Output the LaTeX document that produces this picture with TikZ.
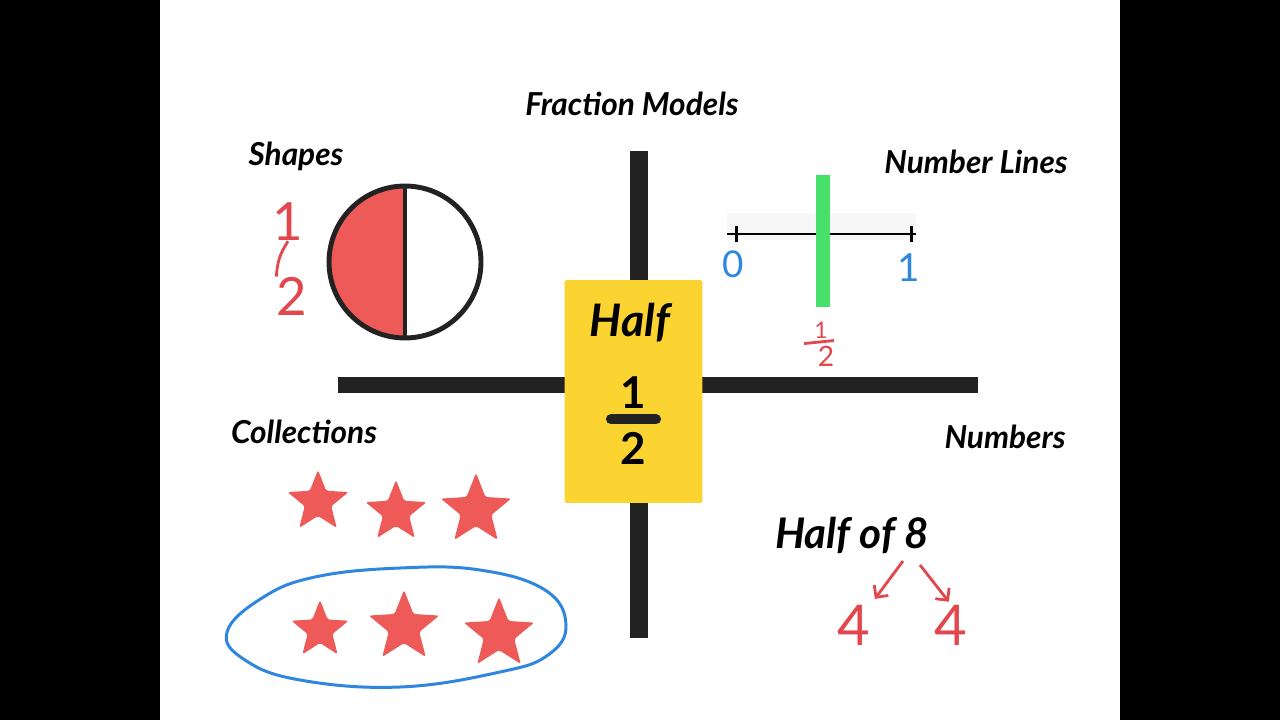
\documentclass[tikz,border=0pt]{standalone}
\usepackage{fontspec}
\setmainfont{Lato}
\usetikzlibrary{positioning,shapes.geometric,arrows.meta}
\definecolor{barblack}{HTML}{222222}
\definecolor{halfyellow}{HTML}{FBD431}
\definecolor{starred}{HTML}{EE5A57}
\definecolor{handred}{HTML}{E2474D}
\definecolor{handblue}{HTML}{2E86DE}
\definecolor{markgreen}{HTML}{46E06B}
\tikzset{%
  every title/.style={
    font=\bfseries\itshape\fontsize{18}{21}\selectfont,
    inner sep=0pt
  },
  every star/.style={
    star,
    star points=5,
    star point ratio=2.3,
    fill=starred,
    inner sep=0pt,
    rounded corners=1pt
  },
  hand digit/.style={
    text=handred,
    inner sep=0pt
  },
  axis bar/.style={
    draw=barblack,
    line width=10pt
  },
}

\begin{document}
\begin{tikzpicture}[x=0.02cm, y=-0.02cm, >={Straight Barb[length=5pt,width=10pt]}]
        \useasboundingbox (0,0) rectangle (1280,720);
        \fill[black] (0,0) rectangle (1280,720);
        \fill[white] (160,0) rectangle (1120,720);

        %%%%%%%%%%%%%%%%%%%%%%%%%%%%%%%%%%%%%%%%%%%%
        % Axes and centre box
        %%%%%%%%%%%%%%%%%%%%%%%%%%%%%%%%%%%%%%%%%%%%
        \coordinate (axis-top) at (639,151);
        \coordinate (axis-bottom) at (639,638);
        \coordinate (axis-left) at (338,385);
        \coordinate (axis-right) at (978,385);
        \draw[axis bar] (axis-top) -- (axis-bottom);
        \draw[axis bar, line width=9pt] (axis-left) -- (axis-right);

        \node[fill=halfyellow, rounded corners=1pt, minimum width=2.76cm,
              minimum height=4.46cm] (half-box) at (633.5,391.5) {};
        \node[font=\bfseries\itshape\fontsize{25.5}{30}\selectfont] (half-word) at (630,323) {Half};
        \node[font=\bfseries\fontsize{25}{30}\selectfont, inner sep=0pt] (half-num) at (633,393) {1};
        \node[font=\bfseries\fontsize{25}{30}\selectfont, inner sep=0pt] (half-den) at (633,448) {2};
        \draw[barblack, line width=5.8pt, line cap=round] (half-num.south) ++(-22,10) coordinate (bar-l) -- ++(45,0) coordinate (bar-r);

        %%%%%%%%%%%%%%%%%%%%%%%%%%%%%%%%%%%%%%%%%%%%
        % Titles
        %%%%%%%%%%%%%%%%%%%%%%%%%%%%%%%%%%%%%%%%%%%%
        \foreach \t/\x/\y [count=\i] in {Fraction Models/632/104, Shapes/296/156,
            Number Lines/976/162, Collections/304/432, Numbers/1005/437}
            \node[every title/.try] (title-\i) at (\x,\y) {\t};

        %%%%%%%%%%%%%%%%%%%%%%%%%%%%%%%%%%%%%%%%%%%%
        % Shapes
        %%%%%%%%%%%%%%%%%%%%%%%%%%%%%%%%%%%%%%%%%%%%
        \begin{scope}
            \clip (320,170) rectangle (404,350);
            \fill[starred] (405,262) circle (76);
        \end{scope}
        \node[circle, draw=barblack, line width=2.8pt, minimum size=3.04cm, inner sep=0pt] (pie) at (405,262) {};
        \draw[barblack, line width=2.6pt] (pie.north) -- (pie.south);

        \node[hand digit, font=\fontsize{30}{34}\selectfont] (pie-num) at (288,222) {1};
        \node[hand digit, font=\fontsize{30}{34}\selectfont] (pie-den) at (292,296) {2};
        \draw[handred, line width=1.6pt] (pie-num.south) to[bend right=15] (pie-den.north west);

        %%%%%%%%%%%%%%%%%%%%%%%%%%%%%%%%%%%%%%%%%%%%
        % Number line
        %%%%%%%%%%%%%%%%%%%%%%%%%%%%%%%%%%%%%%%%%%%%
        \fill[black!3] (727,213) rectangle (916,240);
        \coordinate (line-start) at (727,234);
        \coordinate (line-end) at (916,234);
        \draw[black, line width=1.7pt] (line-start) -- (line-end);
        \foreach \x in {736,911}
            \draw[black, line width=1.7pt] (\x,226) -- (\x,242);

        \node[fill=markgreen, minimum width=0.28cm, minimum height=2.64cm, inner sep=0pt] (half-mark) at (823,241) {};

        \node[text=handblue, inner sep=0pt, font=\fontsize{21}{24}\selectfont] (zero) at (733,264) {0};
        \node[text=handblue, inner sep=0pt, font=\fontsize{22}{24}\selectfont] (one) at (909,268) {1};

        \node[hand digit, font=\fontsize{13}{14}\selectfont] (mark-num) at (821,330) {1};
        \node[hand digit, font=\fontsize{16}{17}\selectfont] (mark-den) at (826,356) {2};
        \draw[handred, line width=1.6pt] (mark-num.south west) ++(-10,5) coordinate (mb-l) -- ++(30,-3) coordinate (mb-r);

        %%%%%%%%%%%%%%%%%%%%%%%%%%%%%%%%%%%%%%%%%%%%
        % Collections
        %%%%%%%%%%%%%%%%%%%%%%%%%%%%%%%%%%%%%%%%%%%%
        \foreach \x/\y/\s [count=\i] in {318/502/64, 396/512/64, 476/510/74,
            320/630/60, 404/627/74, 499/634/74}
            \node[every star/.try, minimum size=\s*0.02cm] (star-\i) at (\x,\y) {};

        \draw[handblue, line width=1.7pt] plot[smooth cycle, tension=0.7] coordinates {
            (227,632) (262,598) (315,577) (400,568) (480,570) (545,590)
            (566,625) (548,655) (500,672) (400,687) (300,680) (245,660)};

        %%%%%%%%%%%%%%%%%%%%%%%%%%%%%%%%%%%%%%%%%%%%
        % Numbers
        %%%%%%%%%%%%%%%%%%%%%%%%%%%%%%%%%%%%%%%%%%%%
        \node[font=\bfseries\itshape\fontsize{24}{28}\selectfont, inner sep=0pt] (half-eight) at (852,535) {Half of 8};
        \node[hand digit, font=\fontsize{32}{36}\selectfont] (four-1) at (854,625) {4};
        \node[hand digit, font=\fontsize{32}{36}\selectfont] (four-2) at (951,625) {4};

        \coordinate (split-1) at (903,561);
        \coordinate (split-2) at (920,565);
        \draw[->, handred, line width=1.6pt, shorten >=4pt] (split-1) -- (four-1.north east);
        \draw[->, handred, line width=1.6pt, shorten >=2pt] (split-2) -- (four-2.north);
    \end{tikzpicture}
\end{document}
